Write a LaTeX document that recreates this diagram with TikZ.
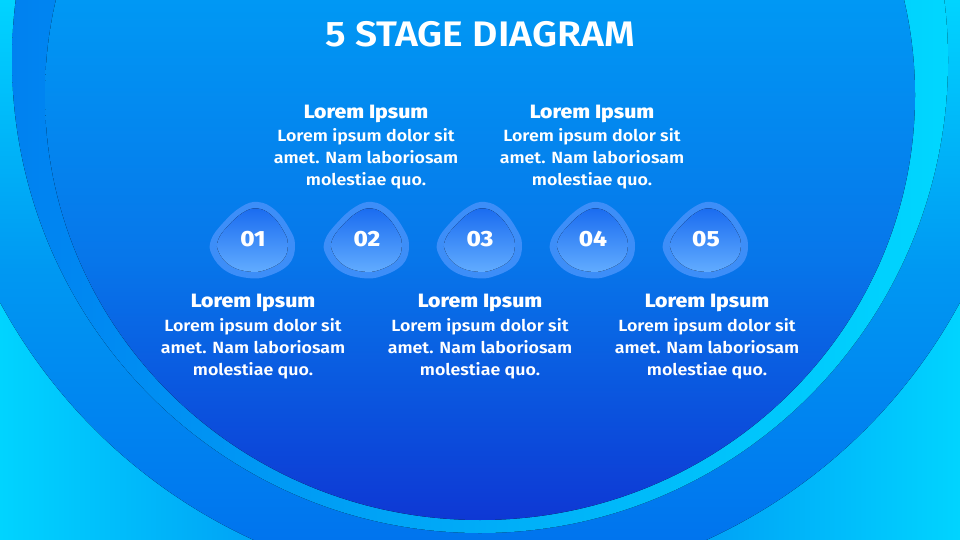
\documentclass[tikz,border=0pt]{standalone}
\usepackage{fontspec}
\setmainfont{Fira Sans}[UprightFont={* SemiBold}, BoldFont={* ExtraBold}, FakeStretch=1.1]
\begin{document}
\begin{tikzpicture}[x=1pt,y=-1pt]
\definecolor{cyanL}{HTML}{00D4FF}
\definecolor{bgmid}{HTML}{0076EE}
\definecolor{aMid}{HTML}{0098F2}
\definecolor{aBot}{HTML}{0074EE}
\definecolor{ringL}{HTML}{0080F0}
\definecolor{ringR}{HTML}{00D8FF}
\definecolor{cTop}{HTML}{0098F4}
\definecolor{cMid}{HTML}{0776EA}
\definecolor{cBot}{HTML}{0E38D4}
\definecolor{rim}{HTML}{3D8EF8}
\definecolor{inTop}{HTML}{1A6CF0}
\definecolor{inBot}{HTML}{62ACFF}
\tikzset{
  titletext/.style={text=white, font=\fontsize{35.5}{38}\selectfont},
  headtext/.style={text=white, font=\bfseries\fontsize{19.3}{22}\selectfont},
  bodytext/.style={text=white, align=center, font=\fontsize{16.2}{22}\selectfont},
  numtext/.style={text=white, font=\bfseries\fontsize{22}{24}\selectfont},
  rimfill/.style={fill=rim},
  innerfill/.style={top color=inTop, bottom color=inBot}
}
\useasboundingbox (0,0) rectangle (960,540);
% background
\fill[left color=cyanL, right color=cyanL, middle color=bgmid] (0,0) rectangle (960,540);
% region A
\begin{scope}
  \clip (480,44) circle (545pt);
  \fill[top color=cyanL, bottom color=aBot, middle color=aMid] (0,0) rectangle (960,540);
\end{scope}
% ring B
\begin{scope}
  \clip (480,60) ellipse [x radius=468pt, y radius=473pt];
  \fill[left color=ringL, right color=ringR] (0,0) rectangle (960,540);
\end{scope}
% inner C
\begin{scope}
  \clip (480,95) ellipse [x radius=435pt, y radius=425pt];
  \fill[top color=cTop, bottom color=cBot, middle color=cMid] (0,0) rectangle (960,520);
\end{scope}
% title
\node[titletext] (title) at (480,34) {5 STAGE DIAGRAM};
% badges
\foreach \bx/\bn in {253/01, 367/02, 480/03, 593/04, 706/05}{
  \begin{scope}[shift={(\bx,240)}]
    \fill[rimfill] plot[smooth cycle, tension=0.7] coordinates {(5,-38) (22,-30) (36,-12) (42,5) (36,24) (15,36) (-5,38) (-27,31) (-41,15) (-42,0) (-30,-17) (-12,-33)};
    \begin{scope}[scale=0.83]
      \fill[innerfill] plot[smooth cycle, tension=0.7] coordinates {(5,-38) (22,-30) (36,-12) (42,5) (36,24) (15,36) (-5,38) (-27,31) (-41,15) (-42,0) (-30,-17) (-12,-33)};
    \end{scope}
  \end{scope}
  \node[numtext] (b\bn) at (\bx,239) {\bn};
}
% top texts
\node[headtext] (h2) at (366,114) {Lorem Ipsum};
\node[bodytext] (t2) at (366,159) {Lorem ipsum dolor sit\\amet. Nam laboriosam\\molestiae quo.};
\node[headtext] (h4) at (592,114) {Lorem Ipsum};
\node[bodytext] (t4) at (592,159) {Lorem ipsum dolor sit\\amet. Nam laboriosam\\molestiae quo.};
% bottom texts
\node[headtext] (h1) at (253,303) {Lorem Ipsum};
\node[bodytext] (t1) at (253,349) {Lorem ipsum dolor sit\\amet. Nam laboriosam\\molestiae quo.};
\node[headtext] (h3) at (480,303) {Lorem Ipsum};
\node[bodytext] (t3) at (480,349) {Lorem ipsum dolor sit\\amet. Nam laboriosam\\molestiae quo.};
\node[headtext] (h5) at (707,303) {Lorem Ipsum};
\node[bodytext] (t5) at (707,349) {Lorem ipsum dolor sit\\amet. Nam laboriosam\\molestiae quo.};
\end{tikzpicture}
\end{document}
